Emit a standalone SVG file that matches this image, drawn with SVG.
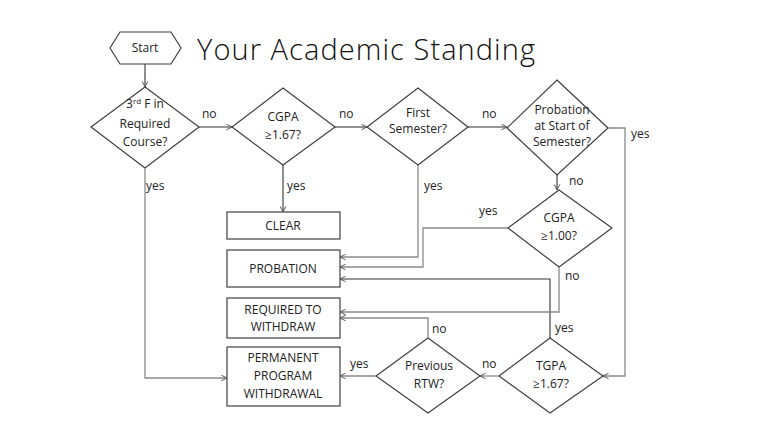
<svg xmlns="http://www.w3.org/2000/svg" width="768" height="433" viewBox="0 0 768 433">
<defs>
<marker id="a" viewBox="0 0 10 10" refX="9" refY="5" markerWidth="7" markerHeight="7" orient="auto" markerUnits="userSpaceOnUse"><path d="M1,1 L9,5 L1,9" fill="none" stroke="#555" stroke-width="1.4"/></marker>
</defs>
<style>
.s{fill:#fff;stroke:#404040;stroke-width:1.2}
.t{font-family:"Open Sans","Liberation Sans",sans-serif;font-size:12px;fill:#222;text-anchor:middle}
.l{font-family:"Open Sans","Liberation Sans",sans-serif;font-size:12px;fill:#222}
.c{fill:none;stroke:#8a8a8a;stroke-width:1.3;marker-end:url(#a)}
.d{fill:none;stroke:#333;stroke-width:1.1;marker-end:url(#a)}
</style>
<rect width="768" height="433" fill="#fff"/>
<text x="197" y="60" font-family="Open Sans, Liberation Sans, sans-serif" font-weight="300" font-size="29" fill="#111" textLength="338">Your Academic Standing</text>
<g id="start"><polygon class="s" points="120,32 171,32 181,48 171,64 120,64 110,48"/><text class="t" x="145" y="52">Start</text></g>
<g id="d1"><polygon class="s" points="145,87 199,127 145,168 91,127"/><text class="t" x="145" y="108">3<tspan font-size="8" dy="-4">rd</tspan><tspan dy="4"> F in</tspan></text><text class="t" x="145" y="128">Required</text><text class="t" x="145" y="146">Course?</text></g>
<g id="d2"><polygon class="s" points="283,88 335,127 283,165 232,127"/><text class="t" x="283" y="121">CGPA</text><text class="t" x="283" y="139">≥1.67?</text></g>
<g id="d3"><polygon class="s" points="418,88 468,127 418,165 367,127"/><text class="t" x="418" y="117">First</text><text class="t" x="418" y="133">Semester?</text></g>
<g id="d4"><polygon class="s" points="557,80 608,128 557,175 507,128"/><text class="t" x="562" y="114">Probation</text><text class="t" x="562" y="130">at Start of</text><text class="t" x="562" y="146">Semester?</text></g>
<g id="d5"><polygon class="s" points="559,190 612,228 559,267 508,228"/><text class="t" x="559" y="222">CGPA</text><text class="t" x="559" y="240">≥1.00?</text></g>
<g id="d6"><polygon class="s" points="550,338 603,376 550,413 499,376"/><text class="t" x="551" y="370">TGPA</text><text class="t" x="551" y="388">≥1.67?</text></g>
<g id="d7"><polygon class="s" points="428,338 480,376 428,413 376,376"/><text class="t" x="429" y="370">Previous</text><text class="t" x="429" y="388">RTW?</text></g>
<g id="clear"><rect class="s" x="227" y="212" width="113" height="27"/><text class="t" x="283" y="230">CLEAR</text></g>
<g id="prob"><rect class="s" x="227" y="250" width="113" height="37"/><text class="t" x="283" y="273">PROBATION</text></g>
<g id="rtw"><rect class="s" x="227" y="298" width="113" height="40"/><text class="t" x="283" y="314">REQUIRED TO</text><text class="t" x="283" y="331">WITHDRAW</text></g>
<g id="ppw"><rect class="s" x="227" y="347" width="113" height="59"/><text class="t" x="283" y="362">PERMANENT</text><text class="t" x="283" y="380">PROGRAM</text><text class="t" x="283" y="398">WITHDRAWAL</text></g>
<g id="connectors">
<path class="d" d="M145,64 V87"/>
<path class="d" d="M199,127 H232"/>
<path class="d" d="M335,127 H367"/>
<path class="d" d="M468,127 H507"/>
<path class="c" d="M608,128 H625 V376 H603"/>
<path class="d" d="M557,175 V190"/>
<path class="c" d="M145,168 V378 H227"/>
<path class="d" d="M283,165 V212"/>
<path class="c" d="M418,165 V257 H340"/>
<path class="c" d="M508,228 H423 V267 H340"/>
<path class="d" d="M550,338 V279 H340"/>
<path class="c" d="M559,267 V312 H340"/>
<path class="c" d="M428,338 V318 H340"/>
<path class="c" d="M499,376 H480"/>
<path class="c" d="M376,376 H340"/>
</g>
<g id="labels">
<text class="l" x="202" y="118">no</text>
<text class="l" x="339" y="118">no</text>
<text class="l" x="482" y="118">no</text>
<text class="l" x="631" y="138">yes</text>
<text class="l" x="569" y="185">no</text>
<text class="l" x="146" y="190">yes</text>
<text class="l" x="287" y="190">yes</text>
<text class="l" x="424" y="190">yes</text>
<text class="l" x="479" y="215">yes</text>
<text class="l" x="565" y="280">no</text>
<text class="l" x="555" y="332">yes</text>
<text class="l" x="432" y="333">no</text>
<text class="l" x="482" y="368">no</text>
<text class="l" x="350" y="368">yes</text>
</g>
</svg>
